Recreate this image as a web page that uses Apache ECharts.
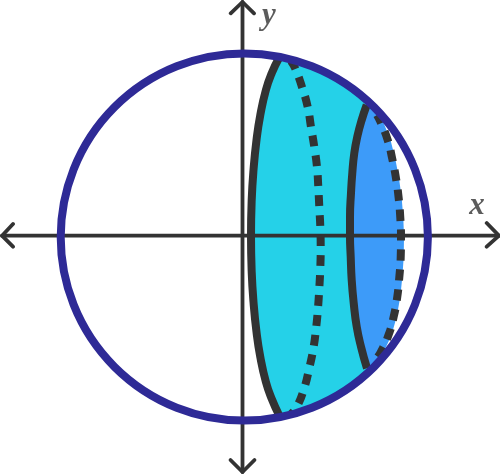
<!DOCTYPE html>
<html><head><meta charset="utf-8">
<style>html,body{margin:0;padding:0;background:#fff}#c{width:500px;height:475px}</style>
<script src="https://cdn.jsdelivr.net/npm/echarts@6/dist/echarts.min.js"></script>
</head><body><div id="c"></div>
<script>
const DARK='#333333', NAVY='#2E2A96', CYAN='#25D1E8', BLUE='#3D9BF9';
const xRange=[-242.5,257.5], yRange=[-239.3,235.7];
const circle=[1.8,-1.3,183.6];
const xAxisLine=[[-240.5,0],[256.5,0]];
const yAxisLine=[[0,233.7],[0,-236.3]];
const arrowRight=[[244.2,12.7],[256.5,0],[244.2,-11]];
const arrowLeft=[[-229.5,11.7],[-240.5,0],[-229.5,-11]];
const arrowUp=[[-11.8,222.4],[0,233.7],[11.5,222.4]];
const arrowDown=[[-12,-224.3],[0,-236.3],[12,-224.3]];
const solidA=[[36.5,177.7],[29.3,162.7],[23.4,145.7],[17.8,120.7],[14,95.7],[11,65.7],[9.2,35.7],[8.5,-0.3],[9.2,-36.3],[11,-66.3],[14,-96.3],[17.8,-121.3],[23.4,-146.3],[29.3,-163.3],[36.5,-179.3]];
const dashedA=[[48.5,174.7],[52.5,167.7],[59.5,148.7],[65.2,128.7],[68.5,108.7],[71.8,88.7],[74.5,68.7],[75.8,48.7],[76.8,28.7],[77.8,8.7],[78.2,-12.3],[77.8,-32.3],[76.8,-52.3],[75.5,-72.3],[73.5,-93.3],[70.8,-113.3],[66.8,-132.3],[61.5,-153.3],[54.2,-171.3],[48.5,-178.3]];
const solidB=[[124.2,130.7],[119.2,115.7],[114.8,99],[111.8,82.7],[109.8,62.7],[108.5,42.7],[107.5,18.7],[107.5,-1],[108.2,-21],[109.2,-44.3],[111.2,-67.3],[114.2,-91],[118.5,-111],[124.5,-132.6]];
const dashedB=[[134.5,120.7],[138.2,113.4],[145.2,95.7],[149.8,76.7],[153.5,57.4],[156.2,37.4],[157.8,18],[158.5,-1],[158.2,-21.6],[156.8,-41.6],[154.8,-61],[151.2,-81],[145.8,-100],[138.2,-116.6],[134.5,-122.3]];
const cyanRegion=[[36.5,179],...solidA,[57.5,-176.3],[77.5,-168.6],[102.5,-154.8],[124.5,-138],...solidB.slice().reverse(),[124.2,135],[102.5,152.2],[77.5,166],[57.5,173.7]];
const blueEdge=[[136,124],[141,113],[148,95.7],[152.8,76.7],[156.5,57.4],[159.2,37.4],[160.8,18],[161.5,-1],[161.2,-21.6],[159.8,-41.6],[157.8,-61],[154.2,-81],[148.8,-100],[141,-116.6],[136,-126.6]];
const blueRegion=[[124.2,135],...blueEdge,[124.5,-138],...solidB.slice().reverse()];
const axisLabels=[{name:'x',value:[234.5,29.7]},{name:'y',value:[26.5,219.7]}];

const poly=(pts,color)=>({type:'custom',coordinateSystem:'cartesian2d',silent:true,clip:false,z:1,
  data:[pts[0]],
  renderItem:(p,api)=>({type:'polygon',shape:{points:pts.map(q=>api.coord(q))},style:{fill:color,stroke:null}})});
const axisStroke=(pts)=>({type:'line',data:pts,symbol:'none',silent:true,z:2,clip:false,lineStyle:{color:DARK,width:3.8,cap:'round',join:'round'}});
const arc=(pts,dash)=>({type:'line',data:pts,smooth:true,symbol:'none',silent:true,z:3,clip:false,
  lineStyle:{color:DARK,width:8,type:dash?[11,9]:'solid',dashOffset:dash?2:0,cap:'butt'}});

const chart=echarts.init(document.getElementById('c'),null,{renderer:'canvas'});
chart.setOption({
  animation:false,backgroundColor:'#fff',
  grid:{left:0,right:0,top:0,bottom:0},
  xAxis:{type:'value',min:xRange[0],max:xRange[1],show:false},
  yAxis:{type:'value',min:yRange[0],max:yRange[1],show:false},
  series:[
    poly(cyanRegion,CYAN),poly(blueRegion,BLUE),
    axisStroke(xAxisLine),axisStroke(yAxisLine),
    axisStroke(arrowRight),axisStroke(arrowLeft),axisStroke(arrowUp),axisStroke(arrowDown),
    arc(solidA,false),arc(dashedA,true),arc(solidB,false),arc(dashedB,true),
    {type:'custom',coordinateSystem:'cartesian2d',silent:true,clip:false,z:4,data:[circle],
     renderItem:(p,api)=>({type:'circle',shape:{cx:api.coord([api.value(0),api.value(1)])[0],cy:api.coord([api.value(0),api.value(1)])[1],r:api.size([api.value(2),0])[0]},style:{fill:null,stroke:NAVY,lineWidth:8}})},
    {type:'scatter',data:axisLabels,symbolSize:0,silent:true,z:5,clip:false,
     label:{show:true,position:'inside',formatter:'{b}',fontFamily:'Liberation Serif',fontStyle:'italic',fontWeight:'bold',fontSize:31,color:DARK}}
  ]
});
</script></body></html>
